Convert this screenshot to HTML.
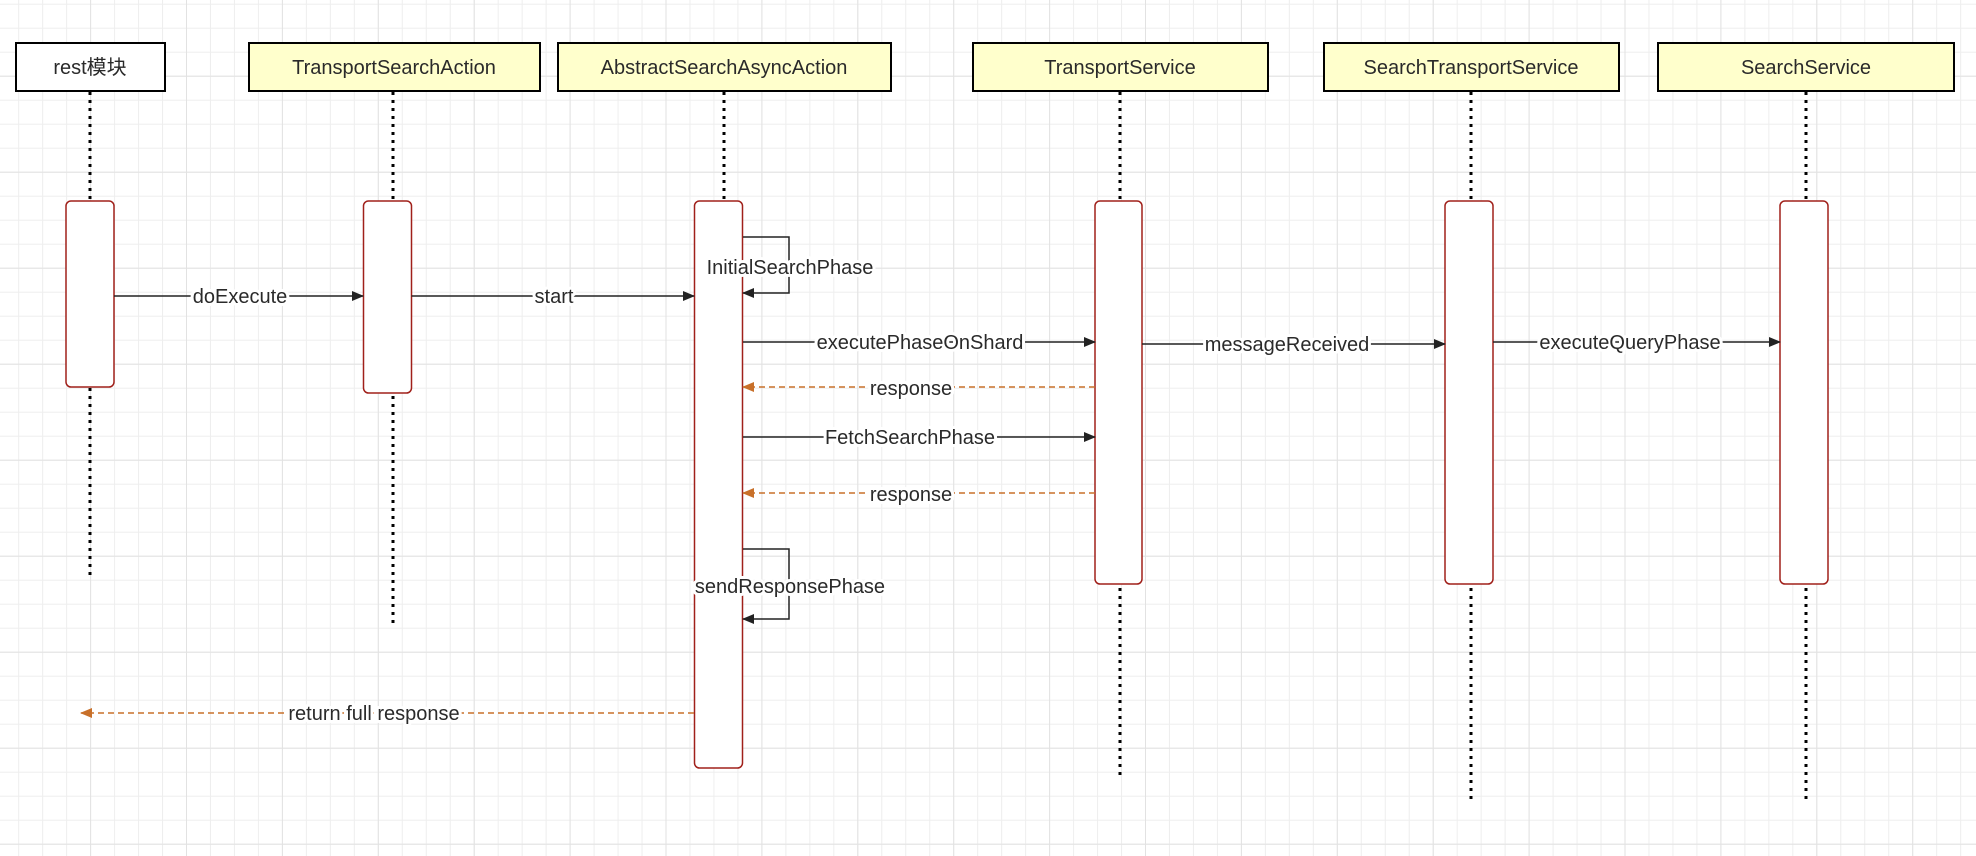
<!DOCTYPE html>
<html><head><meta charset="utf-8"><style>
html,body{margin:0;padding:0;background:#fff}
svg{display:block}
text{font-family:"Liberation Sans","Noto Sans CJK SC",sans-serif;font-size:20px;fill:#2a2a2a}
.lb{stroke:#fff;stroke-width:6px;paint-order:stroke;stroke-linejoin:round}
</style></head><body>
<svg width="1976" height="856" viewBox="0 0 1976 856" xmlns="http://www.w3.org/2000/svg">
<defs>
<pattern id="minor" x="-5.8" y="3.7" width="23.975" height="24" patternUnits="userSpaceOnUse">
<path d="M0 0V24M0 0H23.975" stroke="#eeeeee" stroke-width="2" fill="none"/>
</pattern>
<pattern id="major" x="-5.8" y="-20.3" width="95.9" height="96" patternUnits="userSpaceOnUse">
<path d="M0 0V96M0 0H95.9" stroke="#e2e2e2" stroke-width="2" fill="none"/>
</pattern>
<marker id="ab" markerWidth="12" markerHeight="10" refX="11" refY="5" orient="auto" markerUnits="userSpaceOnUse"><path d="M0 0L12 5L0 10Z" fill="#222"/></marker>
<marker id="ao" markerWidth="12" markerHeight="10" refX="11" refY="5" orient="auto" markerUnits="userSpaceOnUse"><path d="M0 0L12 5L0 10Z" fill="#c8702a"/></marker>
</defs>
<rect width="1976" height="856" fill="#fff"/>
<rect width="1976" height="856" fill="url(#minor)"/>
<rect width="1976" height="856" fill="url(#major)"/>

<g stroke="#000" stroke-width="2">
<rect x="16" y="43" width="149" height="48" fill="#fff"/>
<rect x="249" y="43" width="291" height="48" fill="#ffffcc"/>
<rect x="558" y="43" width="333" height="48" fill="#ffffcc"/>
<rect x="973" y="43" width="295" height="48" fill="#ffffcc"/>
<rect x="1324" y="43" width="295" height="48" fill="#ffffcc"/>
<rect x="1658" y="43" width="296" height="48" fill="#ffffcc"/>
</g>
<g text-anchor="middle">
<text x="90" y="74">rest模块</text>
<text x="394" y="74">TransportSearchAction</text>
<text x="724" y="74">AbstractSearchAsyncAction</text>
<text x="1120" y="74">TransportService</text>
<text x="1471" y="74">SearchTransportService</text>
<text x="1806" y="74">SearchService</text>
</g>

<g stroke="#000" stroke-width="3" stroke-dasharray="3 5">
<line x1="90" y1="92" x2="90" y2="580"/>
<line x1="393" y1="92" x2="393" y2="628"/>
<line x1="724" y1="92" x2="724" y2="200"/>
<line x1="1120" y1="92" x2="1120" y2="778"/>
<line x1="1471" y1="92" x2="1471" y2="803"/>
<line x1="1806" y1="92" x2="1806" y2="803"/>
</g>

<g fill="#fff" stroke="#a0201a" stroke-width="1.5">
<rect x="66" y="201" width="48" height="186" rx="5"/>
<rect x="363.5" y="201" width="48" height="192" rx="5"/>
<rect x="694.5" y="201" width="48" height="567" rx="5"/>
<rect x="1095" y="201" width="47" height="383" rx="5"/>
<rect x="1445" y="201" width="48" height="383" rx="5"/>
<rect x="1780" y="201" width="48" height="383" rx="5"/>
</g>

<g stroke="#222" stroke-width="1.5" fill="none">
<line x1="114" y1="296" x2="363" y2="296" marker-end="url(#ab)"/>
<line x1="411.5" y1="296" x2="694" y2="296" marker-end="url(#ab)"/>
<polyline points="743,237 789,237 789,293 743,293" marker-end="url(#ab)"/>
<line x1="743" y1="342" x2="1095" y2="342" marker-end="url(#ab)"/>
<line x1="1142" y1="344" x2="1445" y2="344" marker-end="url(#ab)"/>
<line x1="1493" y1="342" x2="1780" y2="342" marker-end="url(#ab)"/>
<line x1="743" y1="437" x2="1095" y2="437" marker-end="url(#ab)"/>
<polyline points="743,549 789,549 789,619 743,619" marker-end="url(#ab)"/>
</g>
<g stroke="#c8702a" stroke-width="1.5" fill="none" stroke-dasharray="6 4">
<line x1="1095" y1="387" x2="743" y2="387" marker-end="url(#ao)"/>
<line x1="1095" y1="493" x2="743" y2="493" marker-end="url(#ao)"/>
<line x1="694" y1="713" x2="81" y2="713" marker-end="url(#ao)"/>
</g>

<g text-anchor="middle">
<text class="lb" x="240" y="303">doExecute</text>
<text class="lb" x="554" y="303">start</text>
<text class="lb" x="790" y="274">InitialSearchPhase</text>
<text class="lb" x="920" y="349">executePhaseOnShard</text>
<text class="lb" x="1287" y="351">messageReceived</text>
<text class="lb" x="1630" y="349">executeQueryPhase</text>
<text class="lb" x="911" y="395">response</text>
<text class="lb" x="910" y="444">FetchSearchPhase</text>
<text class="lb" x="911" y="501">response</text>
<text class="lb" x="790" y="593">sendResponsePhase</text>
<text class="lb" x="374" y="720">return full response</text>
</g>
</svg>
</body></html>
